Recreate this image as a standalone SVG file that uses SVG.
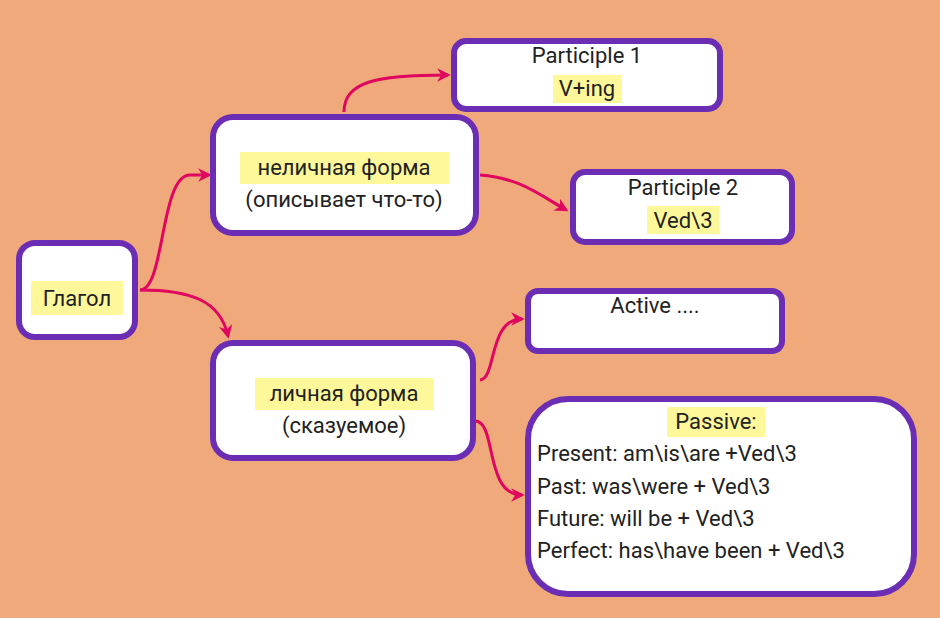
<svg xmlns="http://www.w3.org/2000/svg" width="940" height="618" viewBox="0 0 940 618">
<style>
.n{fill:#fff;stroke:#6A2DB4;stroke-width:6}
.t{font-family:Roboto,"Liberation Sans",sans-serif;font-size:22px;fill:#222}
.c{text-anchor:middle}
.h{fill:#FFF89A}
.e{fill:none;stroke:#E0055F;stroke-width:3}
</style>
<defs><marker id="a" viewBox="0 0 10 10" refX="8" refY="5" markerWidth="4.5" markerHeight="4.5" orient="auto" markerUnits="strokeWidth"><path d="M0,0 L10,5 L0,10 L3,5 Z" fill="#E0055F"/></marker></defs>
<rect width="940" height="618" fill="#EFA97A"/>
<g id="connectors">
<path class="e" marker-end="url(#a)" d="M140,290 C165,290 160,175 190,175 L209,175"/>
<path class="e" marker-end="url(#a)" d="M140,290 C190,290 220,300 228,336"/>
<path class="e" marker-end="url(#a)" d="M344,112 C344,82 375,75 448,75"/>
<path class="e" marker-end="url(#a)" d="M480,175 C520,178 540,195 566,210"/>
<path class="e" marker-end="url(#a)" d="M480,380 C497,378 488,319 522,319"/>
<path class="e" marker-end="url(#a)" d="M475,421 C497,421 484,495 522,495"/>
</g>
<g id="glagol"><rect class="n" x="19" y="243" width="116" height="94" rx="16"/><rect class="h" x="31" y="281" width="92" height="34"/><text class="t c" x="77" y="306" font-size="24">Глагол</text></g>
<g id="nelichnaya"><rect class="n" x="213" y="117" width="263" height="116" rx="20"/><rect class="h" x="240" y="152" width="209" height="32"/><text class="t c" x="344" y="175">неличная форма</text><text class="t c" x="344" y="207">(описывает что-то)</text></g>
<g id="p1"><rect class="n" x="454" y="41" width="266" height="68" rx="12"/><text class="t c" x="587" y="63">Participle 1</text><rect class="h" x="553" y="75" width="69" height="28"/><text class="t c" x="587" y="96">V+ing</text></g>
<g id="p2"><rect class="n" x="573" y="172" width="219" height="70" rx="12"/><text class="t c" x="683" y="195">Participle 2</text><rect class="h" x="647" y="206" width="72" height="28"/><text class="t c" x="683" y="228">Ved\3</text></g>
<g id="active"><rect class="n" x="528" y="291" width="254" height="60" rx="10"/><text class="t c" x="655" y="313">Active ....</text></g>
<g id="lichnaya"><rect class="n" x="213" y="343" width="260" height="115" rx="20"/><rect class="h" x="255" y="378" width="179" height="32"/><text class="t c" x="344" y="401">личная форма</text><text class="t c" x="344" y="433">(сказуемое)</text></g>
<g id="passive"><rect class="n" x="528" y="399" width="386" height="195" rx="40"/><rect class="h" x="667" y="407" width="98" height="30"/><text class="t c" x="716" y="429">Passive:</text>
<text class="t" x="537" y="461">Present: am\is\are +Ved\3</text>
<text class="t" x="537" y="494">Past: was\were + Ved\3</text>
<text class="t" x="537" y="526">Future: will be + Ved\3</text>
<text class="t" x="537" y="558">Perfect: has\have been + Ved\3</text></g>
</svg>
